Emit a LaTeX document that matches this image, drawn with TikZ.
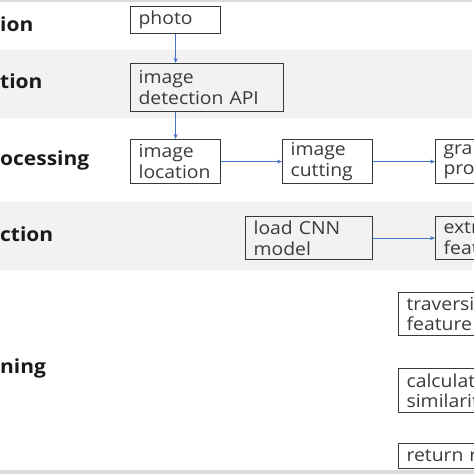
\documentclass[tikz,border=0pt]{standalone}
\usepackage{fontspec}
\setmainfont{Open Sans}[FakeStretch=1.08]
\usetikzlibrary{arrows.meta}
\definecolor{band}{HTML}{F2F2F2}
\definecolor{arr}{HTML}{4472C4}
\definecolor{edge}{HTML}{383838}
\definecolor{rulec}{HTML}{DADADA}
\definecolor{boxtext}{HTML}{3A3A3A}
\definecolor{labeltext}{HTML}{1A1A1A}
\begin{document}
\begin{tikzpicture}[x=1bp,y=-1bp,
  stepbox/.style={draw=edge,line width=1.2bp,anchor=north west,inner xsep=8bp,inner ysep=0bp,
    align=left,font=\fontsize{18}{20.5}\selectfont,text=boxtext},
  lane/.style={anchor=base west,inner sep=0pt,font=\fontsize{19.5}{22}\selectfont\bfseries,text=labeltext},
  flow/.style={draw=arr,line width=0.9bp,-{Stealth[length=5bp,width=4bp]}}]
\useasboundingbox (0,0) rectangle (474,474);
\clip (0,0) rectangle (474,474);
% bands and rules
\fill[band] (0,50) rectangle (472,118);
\fill[band] (0,202) rectangle (472,270);
\fill[rulec] (0,0) rectangle (472,2.5);
\fill[rulec] (0,470) rectangle (474,474);
% lane labels
\node[lane] (l1) at (0,32) {ion};
\node[lane] (l2) at (0,89) {tion};
\node[lane] (l3) at (0,166) {ocessing};
\node[lane] (l4) at (0,241.5) {ction};
\node[lane] (l5) at (0,373) {ning};
% boxes
\node[stepbox,minimum height=27bp,text width=74bp] (photo) at (130,6) {photo};
\node[stepbox,minimum height=48bp,text width=137bp] (api) at (130,63) {image\\detection API};
\node[stepbox,minimum height=44bp,text width=74bp] (loc) at (130,139) {image\\location};
\node[stepbox,minimum height=44bp,text width=74bp] (cut) at (282,139) {image\\cutting};
\node[stepbox,minimum height=44bp,text width=74bp] (gray) at (435,139) {gra\\pro};
\node[stepbox,minimum height=43bp,text width=111bp] (cnn) at (245,216) {load CNN\\model};
\node[stepbox,minimum height=43bp,text width=74bp] (extr) at (435,216) {extr\\feat};
\node[stepbox,minimum height=43bp,text width=100bp] (trav) at (398,292) {traversi\\feature};
\node[stepbox,minimum height=44bp,text width=100bp] (calc) at (398,368) {calculat\\similarit};
\node[stepbox,minimum height=25bp,text width=100bp] (ret) at (398,443) {return r};
% connectors
\draw[flow] (photo.south) -- (photo.south |- api.north);
\draw[flow] (loc.north |- api.south) -- (loc.north);
\draw[flow] (loc.east) -- (cut.west);
\draw[flow] (cut.east) -- (gray.west);
\draw[flow] (cnn.east) -- (cnn.east -| extr.west);
\end{tikzpicture}
\end{document}
